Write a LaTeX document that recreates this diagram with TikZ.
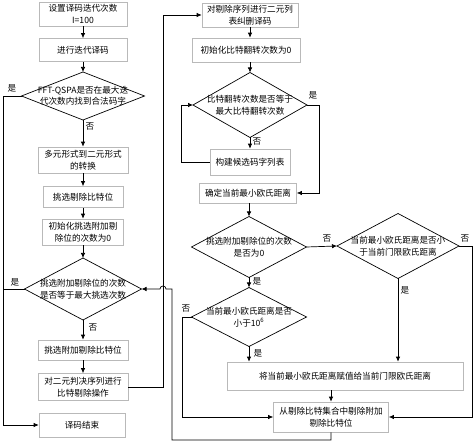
\documentclass[tikz,border=0pt]{standalone}
\usepackage{fontspec}
\setmainfont{Noto Sans CJK SC}
\usetikzlibrary{shapes.geometric,arrows.meta}
\tikzset{
	box/.style={draw=gray!55, line width=0.6pt, align=center, inner sep=0pt},
	raute/.style={draw, diamond, line width=0.7pt, inner sep=0pt, outer sep=0pt},
	pfeil/.style={line width=0.7pt, -{Latex[length=5pt,width=4.5pt]}},
	linie/.style={line width=0.7pt}
}
\begin{document}
\begin{tikzpicture}[x=1pt,y=-1pt,font=\fontsize{8.6}{11.5}\selectfont]
		\useasboundingbox (0,0) rectangle (474,443);
		\coordinate (links) at (3,0);
		\coordinate (busA) at (163,0);
		\coordinate (busB) at (172,440);

		\node[box, minimum width=88pt, minimum height=24pt] (setI) at (83,14) {设置译码迭代次数\\I=100};
		\node[box, minimum width=88pt, minimum height=23pt] (iter) at (83,50) {进行迭代译码};
		\node[raute, minimum width=123pt, minimum height=48pt] (fft) at (83,96) {};
		\node[align=center] (fftT) at (fft) {FFT-QSPA是否在最大迭\\代次数内找到合法码字};
		\node[box, minimum width=90pt, minimum height=26pt] (form) at (83,160) {多元形式到二元形式\\的转换};
		\node[box, minimum width=80pt, minimum height=21pt] (waehl) at (83,197) {挑选剔除比特位};
		\node[box, minimum width=81pt, minimum height=26pt] (init) at (83,232) {初始化挑选附加剔\\除位的次数为0};
		\node[raute, minimum width=117pt, minimum height=62pt] (zaehl) at (83,289) {};
		\node[align=center] (zaehlT) at (zaehl) {挑选附加剔除位的次数\\是否等于最大挑选次数};
		\node[box, minimum width=90pt, minimum height=20pt] (zusatz) at (83,350) {挑选附加剔除比特位};
		\node[box, minimum width=90pt, minimum height=27pt] (tilg) at (83,387) {对二元判决序列进行\\比特剔除操作};
		\node[box, minimum width=86pt, minimum height=24pt] (ende) at (82,425) {译码结束};

		\node[box, minimum width=96pt, minimum height=24pt] (liste) at (250,15) {对剔除序列进行二元列\\表纠删译码};
		\node[box, minimum width=108pt, minimum height=24pt] (flip) at (246,50) {初始化比特翻转次数为0};
		\node[raute, minimum width=114pt, minimum height=65pt] (flipQ) at (250,105) {};
		\node[align=center] (flipQT) at (flipQ) {比特翻转次数是否等于\\最大比特翻转次数};
		\node[box, minimum width=80pt, minimum height=26pt] (kand) at (250,162) {构建候选码字列表};
		\node[box, minimum width=97pt, minimum height=20pt] (dist) at (248,193) {确定当前最小欧氏距离};
		\node[raute, minimum width=115pt, minimum height=61pt] (null) at (249,247) {};
		\node[align=center] (nullT) at (null) {挑选附加剔除位的次数\\是否为0};
		\node[raute, minimum width=122pt, minimum height=65pt] (schw) at (398,246) {};
		\node[align=center] (schwT) at (schw) {当前最小欧氏距离是否小\\于当前门限欧氏距离};
		\node[raute, minimum width=115pt, minimum height=59pt] (klein) at (249,317) {};
		\node[align=center] (kleinT) at (klein) {当前最小欧氏距离是否\\小于10\textsuperscript{6}};
		\node[box, minimum width=236pt, minimum height=28pt] (zuweis) at (345,376) {将当前最小欧氏距离赋值给当前门限欧氏距离};
		\node[box, minimum width=115pt, minimum height=30pt] (entf) at (331,417) {从剔除比特集合中剔除附加\\剔除比特位};

		\draw[pfeil] (setI) -- (iter);
		\draw[pfeil] (iter) -- (fft.north);
		\draw[pfeil] (fft.south) -- (form);
		\draw[pfeil] (form) -- (waehl);
		\draw[pfeil] (waehl) -- (init);
		\draw[pfeil] (init) -- (zaehl.north);
		\draw[pfeil] (zaehl.south) -- (zusatz);
		\draw[pfeil] (zusatz) -- (tilg);
		\draw[pfeil] (fft.west) -- (fft.west -| links) |- (ende.west);
		\draw[linie] (zaehl.west) -- (zaehl.west -| links);
		\draw[pfeil] (tilg.east) -- (tilg.east -| busA) |- (liste.west);

		\draw[pfeil] (liste.south) -- (liste.south |- flip.north);
		\draw[pfeil] (flip.south -| flipQ) -- (flipQ.north);
		\draw[pfeil] (flipQ.south) -- (kand);
		\draw[pfeil] (kand.west) -- ++(-28,0) |- (flipQ.west);
		\draw[pfeil] (flipQ.east) -- ++(12,0) |- (dist.east);
		\draw[pfeil] (dist.south -| null) -- (null.north);
		\draw[pfeil] (null.east) -- (schw.west);
		\draw[pfeil] (null.south) -- (klein.north);
		\draw[pfeil] (schw.south) -- (schw.south |- zuweis.north);
		\draw[pfeil] (klein.south) -- (klein.south |- zuweis.north);
		\draw[pfeil] (schw.east) -- ++(13,0) |- (entf.east);
		\draw[pfeil] (klein.west) -- ++(-9,0) |- (entf.west);
		\draw[pfeil] (zuweis.south -| entf) -- (entf.north);
		\draw[pfeil] (entf.south) |- (busB) -- (busB |- zaehl.east) -- ++(-6,0) arc[start angle=0, end angle=-180, radius=3] -- (zaehl.east);

		\node (jaFFT) at (12,88) {是};
		\node (neinFFT) at (90,126) {否};
		\node (jaZaehl) at (15,282) {是};
		\node (neinZaehl) at (93,327) {否};
		\node (jaFlip) at (313,95) {是};
		\node (neinFlip) at (257,141) {否};
		\node (neinNull) at (327,238) {否};
		\node (jaNull) at (257,281) {是};
		\node (neinSchw) at (465,238) {否};
		\node (jaSchw) at (405,290) {是};
		\node (neinKlein) at (186,308) {否};
		\node (jaKlein) at (258,353) {是};
	\end{tikzpicture}
\end{document}
